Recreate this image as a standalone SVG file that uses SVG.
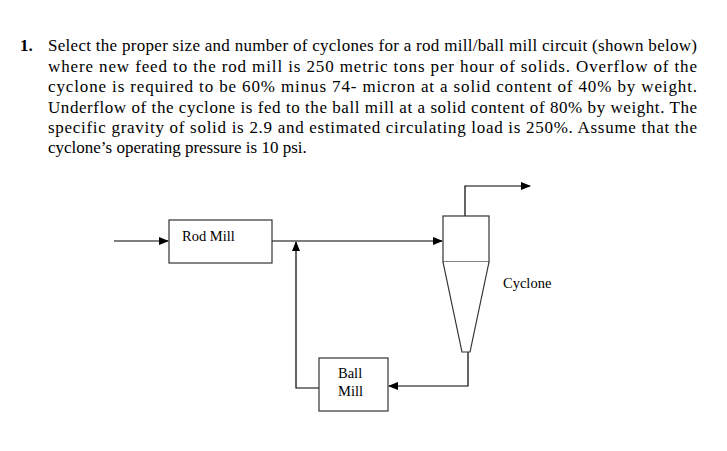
<svg xmlns="http://www.w3.org/2000/svg" width="727" height="451" viewBox="0 0 727 451">
<defs><marker id="ah" markerWidth="10" markerHeight="8" refX="9" refY="4" orient="auto" markerUnits="userSpaceOnUse"><path d="M0,0L10,4L0,8z" fill="#000"/></marker></defs>
<style>text{font-family:"Liberation Serif",serif;font-size:17px;fill:#000}.s{font-size:14.5px}.b{fill:#fff;stroke:#333;stroke-width:1.2}.c{fill:none;stroke:#000;stroke-width:1.2}</style>
<rect width="727" height="451" fill="#fff"/>
<g id="question">
<text x="20" y="51" font-weight="bold">1.</text>
<text x="48" y="51" textLength="649" lengthAdjust="spacing">Select the proper size and number of cyclones for a rod mill/ball mill circuit (shown below)</text>
<text x="48" y="71.5" textLength="649" lengthAdjust="spacing">where new feed to the rod mill is 250 metric tons per hour of solids. Overflow of the</text>
<text x="48" y="92" textLength="649" lengthAdjust="spacing">cyclone is required to be 60% minus 74- micron at a solid content of 40% by weight.</text>
<text x="48" y="112.5" textLength="649" lengthAdjust="spacing">Underflow of the cyclone is fed to the ball mill at a solid content of 80% by weight.  The</text>
<text x="48" y="133" textLength="649" lengthAdjust="spacing">specific gravity of solid is 2.9 and estimated circulating load is 250%. Assume that the</text>
<text x="48" y="153">cyclone’s operating pressure is 10 psi.</text>
</g>
<g id="connectors" class="c">
<path class="c" d="M114,241H168" marker-end="url(#ah)"/>
<path class="c" d="M272,241H442" marker-end="url(#ah)"/>
<path class="c" d="M465,216V186H530" marker-end="url(#ah)"/>
<path class="c" d="M468,352V386H389" marker-end="url(#ah)"/>
<path class="c" d="M319,388H296V242" marker-end="url(#ah)"/>
</g>
<g id="rodmill"><rect class="b" x="169" y="220" width="103" height="43"/><text class="s" x="182" y="241">Rod Mill</text></g>
<g id="cyclone"><rect class="b" x="443" y="216" width="46" height="46"/><path class="b" d="M443,262L462,352H470L489,262"/><text class="s" x="503" y="288">Cyclone</text></g>
<g id="ballmill"><rect class="b" x="319" y="358" width="69" height="53"/><text class="s" x="338" y="378">Ball</text><text class="s" x="338" y="396">Mill</text></g>
</svg>
